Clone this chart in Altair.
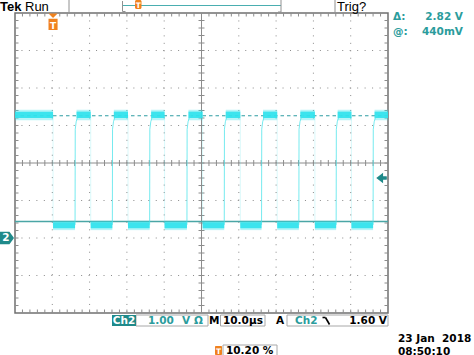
import altair as alt
import pandas as pd

t_domain = [-10.2, 89.8]          # µs : 10 µs/div, trigger at 10.20 %
v_domain = [-2.0, 6.0]            # V  : 1 V/div, ground 2 div below centre

fall_times = [0.0, 10.1, 20.1, 29.9, 40.1, 50.2, 60.1, 70.2, 80.0]
rise_times = [5.9, 15.9, 25.9, 35.9, 45.9, 55.9, 65.9, 75.9, 85.8]
high_core = [3.20, 3.37]
high_outer = [3.14, 3.42]
low_core = [0.26, 0.42]
low_outer = [0.21, 0.46]
rise_dt = [0.0, 0.05, 0.3, 0.6, 1.0]
rise_v = [0.35, 2.90, 3.10, 3.20, 3.27]
cursor_hi = 3.26
cursor_lo = 0.44
trigger_level = 1.60
trigger_time = 0.0
ground_level = 0.0

major_t = [-0.2, 9.8, 19.8, 29.8, 49.8, 59.8, 69.8, 79.8]
center_t = 39.8
major_v = [-1.0, 0.0, 1.0, 3.0, 4.0, 5.0]
center_v = 2.0
minor_t = [round(-10.2 + 2 * k, 2) for k in range(1, 50)]
minor_v = [round(-2.0 + 0.2 * k, 2) for k in range(1, 40)]

# ---------------- layout ----------------
PL, PT, W, H = 15, 13, 373, 300
CYAN = "#2fe2ec"
TEAL = "#2b9c9c"
TEALD = "#1f8a8a"
ORANGE = "#f0821e"
GRID = "#8c8c8c"
FONT = "DejaVu Sans"
NB = "\u00a0"

one = pd.DataFrame({"k": [0]})


def px(x):
    return alt.value(x - PL)


def py(y):
    return alt.value(y - PT)


def X(f="t"):
    return alt.X(f"{f}:Q", scale=alt.Scale(domain=t_domain, nice=False, zero=False), axis=None)


def Y(f="v"):
    return alt.Y(f"{f}:Q", scale=alt.Scale(domain=v_domain, nice=False, zero=False), axis=None)


def text(s, x, y, color="#000000", size=10.5, weight="bold", align="left", font=FONT):
    return alt.Chart(one).mark_text(text=s, align=align, baseline="alphabetic", font=font,
                                    fontSize=size, fontWeight=weight, color=color
                                    ).encode(x=px(x), y=py(y))


def box(x1, y1, x2, y2, fill="#ffffff", stroke=None, sw=1, radius=0):
    kw = dict(fill=fill, cornerRadius=radius)
    if stroke:
        kw.update(stroke=stroke, strokeWidth=sw)
    return alt.Chart(one).mark_rect(**kw).encode(x=px(x1), x2=px(x2), y=py(y1), y2=py(y2))


def seg(x1, y1, x2, y2, color="#888888", sw=1):
    return alt.Chart(one).mark_rule(color=color, strokeWidth=sw).encode(
        x=px(x1), x2=px(x2), y=py(y1), y2=py(y2))


# ---------------- tables ----------------
mt = pd.DataFrame({"t": minor_t})
mv = pd.DataFrame({"v": minor_v})
gt = pd.DataFrame({"t": major_t})
gv = pd.DataFrame({"v": major_v})

plats = []
hs = [t_domain[0]] + [r + 0.4 for r in rise_times]
he = fall_times + [t_domain[1]]
for a, b in zip(hs, he):
    plats.append(dict(t0=a, t1=b, olo=high_outer[0], ohi=high_outer[1], clo=high_core[0], chi=high_core[1]))
for a, b in zip(fall_times, rise_times):
    plats.append(dict(t0=a, t1=b, olo=low_outer[0], ohi=low_outer[1], clo=low_core[0], chi=low_core[1]))
plat = pd.DataFrame(plats)

rows = []
for i, r in enumerate(rise_times):
    for j, (dt, v) in enumerate(zip(rise_dt, rise_v)):
        rows.append(dict(edge=i, o=j, t=r + dt, v=v))
rise = pd.DataFrame(rows)
frows = []
for i, f in enumerate(fall_times):
    frows.append(dict(edge=i, o=0, t=f, v=sum(high_core) / 2))
    frows.append(dict(edge=i, o=1, t=f, v=sum(low_core) / 2))
fall = pd.DataFrame(frows)

layers = []
# graticule ticks
tick = dict(color=GRID, strokeWidth=1)
layers += [
    alt.Chart(mt).mark_rule(**tick).encode(x=X(), y=alt.value(0), y2=alt.value(3.5)),
    alt.Chart(mt).mark_rule(**tick).encode(x=X(), y=alt.value(H - 3.5), y2=alt.value(H)),
    alt.Chart(mt).mark_rule(**tick).encode(x=X(), y=alt.value(H / 2 - 3), y2=alt.value(H / 2 + 3)),
    alt.Chart(mv).mark_rule(**tick).encode(y=Y(), x=alt.value(0), x2=alt.value(3.5)),
    alt.Chart(mv).mark_rule(**tick).encode(y=Y(), x=alt.value(W - 3.5), x2=alt.value(W)),
    alt.Chart(mv).mark_rule(**tick).encode(y=Y(), x=alt.value(W / 2 - 3), x2=alt.value(W / 2 + 3)),
    alt.Chart(gt).mark_rule(color="#8a8a8a", strokeWidth=1, strokeDash=[1, 6.46]).encode(x=X()),
    alt.Chart(gv).mark_rule(color="#8a8a8a", strokeWidth=1, strokeDash=[1, 6.46]).encode(y=Y()),
    alt.Chart(pd.DataFrame({"t": [center_t]})).mark_rule(color=GRID, strokeWidth=1).encode(x=X()),
    alt.Chart(pd.DataFrame({"v": [center_v]})).mark_rule(color=GRID, strokeWidth=1).encode(y=Y()),
]
# cursors
layers += [
    alt.Chart(pd.DataFrame({"v": [cursor_hi]})).mark_rule(color="#2e9ca2", strokeWidth=1,
                                                          strokeDash=[3.5, 3]).encode(y=Y()),
    alt.Chart(pd.DataFrame({"v": [cursor_lo]})).mark_rule(color="#4aa6a6", strokeWidth=1.3).encode(y=Y()),
]
# waveform
layers += [
    alt.Chart(plat).mark_rect(color=CYAN, opacity=0.35).encode(x=X("t0"), x2="t1", y=Y("olo"), y2="ohi"),
    alt.Chart(plat).mark_rect(color=CYAN, opacity=0.9).encode(x=X("t0"), x2="t1", y=Y("clo"), y2="chi"),
    alt.Chart(rise).mark_line(color="#48e3ea", strokeWidth=1, opacity=0.75).encode(
        x=X(), y=Y(), detail="edge:N", order="o:Q"),
    alt.Chart(fall).mark_line(color="#48e3ea", strokeWidth=1, opacity=0.2).encode(
        x=X(), y=Y(), detail="edge:N", order="o:Q"),
]
# markers
tpath = "M-0.55,-1L0.55,-1L0,-0.45Z M-0.55,-0.35L0.55,-0.35L0.55,1L-0.55,1Z"
layers += [
    alt.Chart(pd.DataFrame({"t": [trigger_time]})).mark_point(
        shape=tpath, filled=True, color=ORANGE, opacity=1, size=272, strokeWidth=0
    ).encode(x=X(), y=py(21.75)),
    alt.Chart(pd.DataFrame({"t": [trigger_time]})).mark_text(
        text="T", color="white", font=FONT, fontSize=9, fontWeight="bold", baseline="alphabetic"
    ).encode(x=X(), y=py(28.5)),
    alt.Chart(pd.DataFrame({"v": [ground_level]})).mark_point(
        shape="M-1,-0.9L0.35,-0.9L1,0L0.35,0.9L-1,0.9Z", filled=True, color=TEALD, opacity=1,
        size=196, strokeWidth=0).encode(x=px(7), y=Y()),
    alt.Chart(pd.DataFrame({"v": [ground_level]})).mark_text(
        text="2", color="white", font=FONT, fontSize=10.5, fontWeight="bold", baseline="middle"
    ).encode(x=px(6), y=Y()),
    alt.Chart(pd.DataFrame({"v": [trigger_level]})).mark_point(
        shape="M-1,0L0.3,-1L0.3,-0.35L1,-0.35L1,0.35L0.3,0.35L0.3,1Z", filled=True, color=TEALD,
        opacity=1, size=110, strokeWidth=0).encode(x=px(381.5), y=Y()),
]
# top bar
layers += [
    text("Tek", 0, 11, size=13, font="Liberation Sans"),
    text("Run", 25, 11, size=13, weight="normal", font="Liberation Sans"),
    seg(69, 0, 69, 12, "#909090"),
    seg(123, 5.5, 281, 5.5, "#4aaeb0", 1.2),
    seg(122.5, 1, 122.5, 11.5, "#909090"),
    seg(122.5, 11.5, 125.5, 11.5, "#909090"),
    seg(281, 0, 281, 12, "#909090"),
    seg(278, 12, 281, 12, "#909090"),
    box(135, 0, 141.5, 9, fill=ORANGE, radius=1.5),
    text("T", 138.2, 8, color="white", size=7.5, align="center"),
    seg(335, 0, 335, 12, "#909090"),
    text("Trig?", 337, 10.5, size=13, weight="normal", font="Liberation Sans"),
]
# readouts
layers += [
    text("Δ:", 393, 19.5, color=TEAL),
    text("2.82" + NB + "V", 463, 19.5, color=TEAL, align="right"),
    text("@:", 393, 35, color=TEAL),
    text("440mV", 463, 35, color=TEAL, align="right"),
]
# bottom bar
layers += [
    box(136, 315, 208, 326, stroke="#a8a8a8"),
    box(220.5, 315, 265, 326, stroke="#a8a8a8"),
    box(287, 315, 388, 326, stroke="#a8a8a8"),
    box(112, 315, 136, 326, fill=TEALD),
    text("Ch2", 124, 324, color="white", align="center"),
    text("1.00", 148, 324, color=TEAL),
    text("V", 182, 324, color=TEAL),
    text("Ω", 194, 324, color=TEAL),
    text("M", 209, 324),
    text("10.0µs", 223, 324),
    text("A", 276, 324),
    text("Ch2", 295, 324, color=TEAL),
    seg(322.5, 317.5, 325.5, 317.5, "#000000", 1.6),
    seg(325.5, 317.5, 329.5, 324.5, "#000000", 1.6),
    text("1.60" + NB + "V", 387, 324, align="right"),
    box(223, 345, 277, 356, stroke="#a8a8a8"),
    box(215, 346, 222, 355, fill=ORANGE, radius=1),
    text("T", 218.5, 353.5, color="white", size=7.5, align="center"),
    text("10.20" + NB + "%", 226, 354),
    text("23" + NB + "Jan" + NB + NB + "2018", 398, 342),
    text("08:50:10", 398, 354.5),
]

chart = alt.layer(*layers).properties(
    width=W, height=H,
    autosize=alt.AutoSizeParams(type="none"),
    padding={"left": PL, "top": PT, "right": 474 - PL - W, "bottom": 355 - PT - H},
    background="white",
).configure_view(stroke="#707070", strokeWidth=1.5)

chart.save("out.html", embed_options={"renderer": "svg", "actions": False})
